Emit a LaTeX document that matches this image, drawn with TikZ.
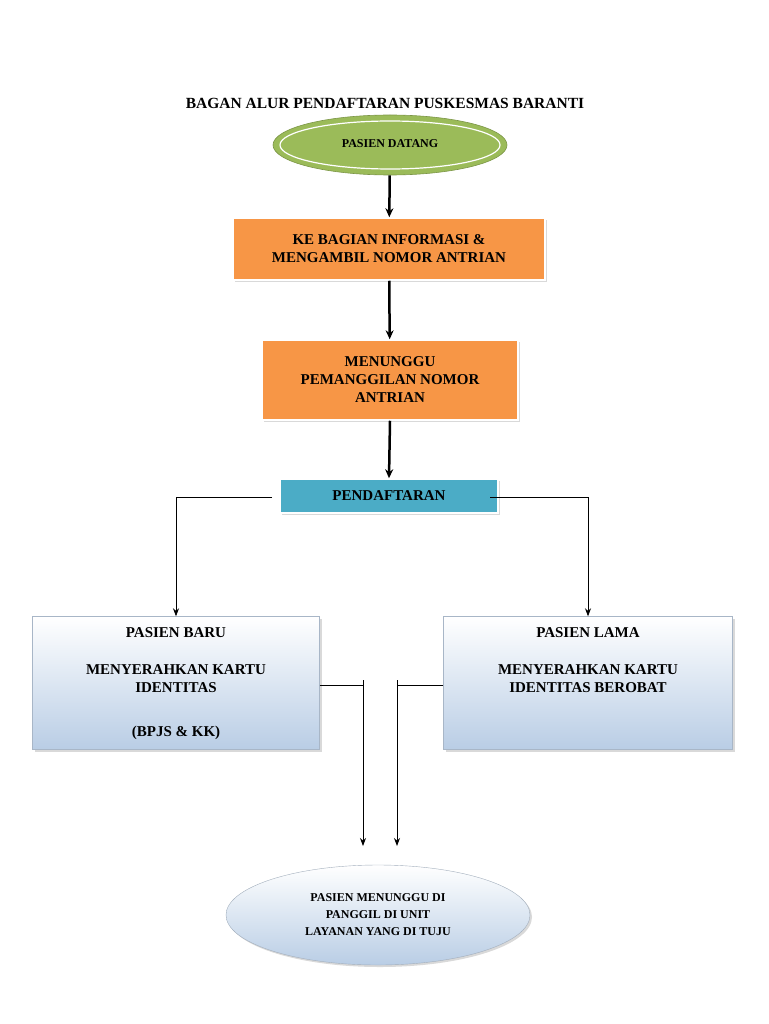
\documentclass[tikz,border=0pt]{standalone}
\usepackage{fontspec}
\setmainfont{Liberation Serif}
\usetikzlibrary{shapes.geometric,arrows.meta,shadows}
\definecolor{grn}{HTML}{9BBB59}
\definecolor{org}{HTML}{F79646}
\definecolor{cyn}{HTML}{4BACC6}
\definecolor{lb}{HTML}{B9CDE5}
\begin{document}
\begin{tikzpicture}[x=1pt,y=-1pt,
 txt/.style={font=\bfseries\fontsize{15}{18}\selectfont,align=center},
 obox/.style={txt,fill=org,draw=white,line width=1.5pt,drop shadow={shadow xshift=2pt,shadow yshift=-2pt,opacity=0.3}},
 gbox/.style={txt,top color=white,bottom color=lb,draw=lb!70!gray,drop shadow={shadow xshift=2pt,shadow yshift=-2pt,opacity=0.3}},
 big/.style={-{Stealth[length=9pt,width=8pt]},line width=2.5pt},
 thin/.style={-{Stealth[length=8pt,width=6pt]},line width=0.8pt}]
\useasboundingbox (0,0) rectangle (768,1024);
\node[font=\bfseries\fontsize{15.5}{18}\selectfont] (title) at (385,103) {BAGAN ALUR PENDAFTARAN PUSKESMAS BARANTI};
\node[ellipse,fill=grn,draw=grn!80!black,line width=0.6pt,minimum width=234pt,minimum height=60pt] (a) at (390,145) {};
\draw[white,line width=1.2pt] (390,145) ellipse (110 and 24);
\node[font=\bfseries\fontsize{12}{14}\selectfont] at (390,144) {PASIEN DATANG};
\node[obox,minimum width=312pt,minimum height=62pt] (b) at (389,249) {KE BAGIAN INFORMASI \&\\MENGAMBIL NOMOR ANTRIAN};
\node[obox,minimum width=256pt,minimum height=80pt] (c) at (390,380) {MENUNGGU\\PEMANGGILAN NOMOR\\ANTRIAN};
\node[txt,fill=cyn,draw=white,line width=1.5pt,minimum width=218pt,minimum height=34pt,drop shadow={shadow xshift=2pt,shadow yshift=-2pt,opacity=0.3}] (d) at (389,496) {PENDAFTARAN};
\node[gbox,minimum width=287pt,minimum height=133pt] (e) at (176,683) {};
\node[txt] at (176,633) {PASIEN BARU};
\node[txt] at (176,679) {MENYERAHKAN KARTU\\IDENTITAS};
\node[txt] at (176,733) {(BPJS \& KK)};
\node[gbox,minimum width=289pt,minimum height=133pt] (f) at (588,683) {};
\node[txt] at (588,633) {PASIEN LAMA};
\node[txt] at (588,679) {MENYERAHKAN KARTU\\IDENTITAS BEROBAT};
\node[ellipse,top color=white,bottom color=lb,draw=lb!60!gray,minimum width=304pt,minimum height=100pt,drop shadow={shadow xshift=2pt,shadow yshift=-2pt,opacity=0.3},font=\bfseries\fontsize{12}{17}\selectfont,align=center] (g) at (378,915) {PASIEN MENUNGGU DI\\PANGGIL DI UNIT\\LAYANAN YANG DI TUJU};
\draw[big] (a) -- (b);
\draw[big] (b) -- (c);
\draw[big] (c.south) -- (d.north);
\coordinate (l1) at (272,497); \coordinate (r1) at (490,497);
\draw[thin] (l1) -| (e.north);
\draw[thin] (r1) -| (f.north);
\coordinate (p) at (363,685); \coordinate (q) at (397,685);
\draw[line width=0.8pt] (e.east |- p) -- (p);
\draw[line width=0.8pt] (f.west |- q) -- (q);
\draw[thin] (363,680) -- (363,846);
\draw[thin] (397,680) -- (397,846);
\end{tikzpicture}
\end{document}
